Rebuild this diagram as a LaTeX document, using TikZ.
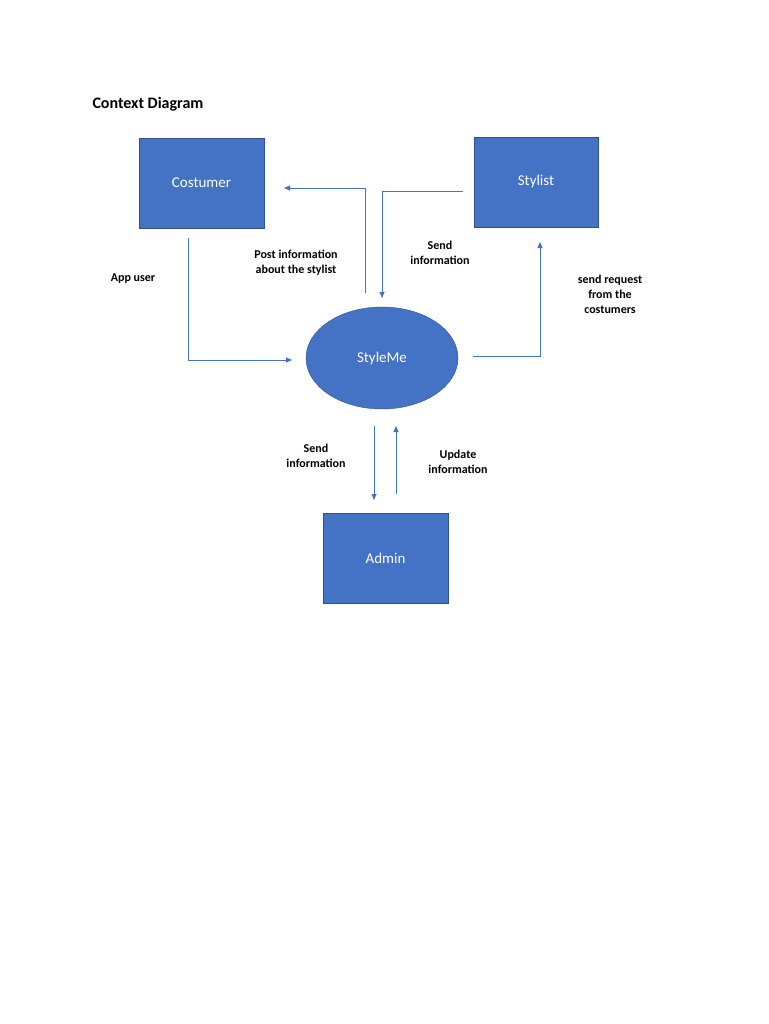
\documentclass[tikz,border=0pt]{standalone}
\usepackage{fontspec}
\setmainfont{Carlito}
\usetikzlibrary{arrows.meta,shapes.geometric}
\definecolor{boxblue}{HTML}{4472C4}
\definecolor{edgeblue}{HTML}{2F528F}
\begin{document}
\begin{tikzpicture}[x=1pt,y=-1pt,
  ent/.style={draw=edgeblue,fill=boxblue,text=white,font=\fontsize{15}{18}\selectfont},
  flow/.style={draw=boxblue,line width=0.8pt,-{Triangle[length=6pt,width=5pt]}},
  lbl/.style={font=\bfseries\fontsize{12}{15}\selectfont,align=center}]
\useasboundingbox[fill=white] (0,0) rectangle (768,1024);
\node[anchor=west,font=\bfseries\fontsize{16}{19}\selectfont] (title) at (89,104) {Context Diagram};
\node[ent,minimum width=125pt,minimum height=90pt] (cost) at (201.5,183) {Costumer};
\node[ent,minimum width=124pt,minimum height=90pt] (styl) at (536,182) {Stylist};
\node[ent,ellipse,minimum width=152pt,minimum height=102pt] (sme) at (382,358) {StyleMe};
\node[ent,minimum width=125pt,minimum height=90pt] (adm) at (385.5,558) {Admin};
\coordinate (a1) at (188,238); \coordinate (a2) at (292,360);
\draw[flow] (a1) |- (a2);
\coordinate (b1) at (365,293); \coordinate (b2) at (284,188);
\draw[flow] (b1) |- (b2);
\coordinate (c1) at (463,191); \coordinate (c2) at (382,298);
\draw[flow] (c1) -| (c2);
\coordinate (d1) at (473,356); \coordinate (d2) at (540,242);
\draw[flow] (d1) -| (d2);
\coordinate (e1) at (374,426); \coordinate (e2) at (374,500);
\draw[flow] (e1) -- (e2);
\coordinate (f1) at (396,494); \coordinate (f2) at (396,426);
\draw[flow] (f1) -- (f2);
\node[lbl] (l1) at (133,279) {App user};
\node[lbl] (l2) at (296,263) {Post information\\about the stylist};
\node[lbl] (l3) at (440,253) {Send\\information};
\node[lbl] (l4) at (610,294) {send request\\from the\\costumers};
\node[lbl] (l5) at (316,456) {Send\\information};
\node[lbl] (l6) at (458,462) {Update\\information};
\end{tikzpicture}
\end{document}
